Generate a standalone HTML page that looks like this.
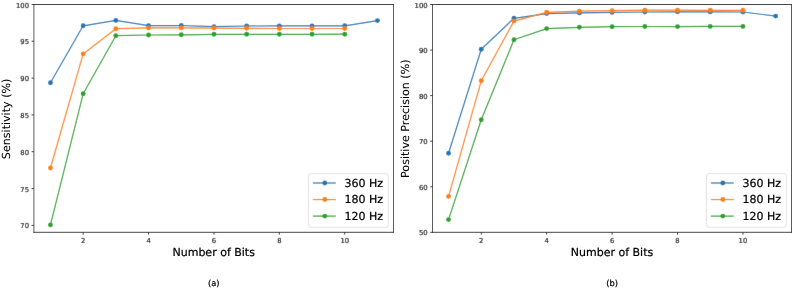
<!DOCTYPE html>
<html><head><meta charset="utf-8"><title>Figure</title>
<style>html,body{margin:0;padding:0;background:#fff;width:793px;height:289px;overflow:hidden}svg{display:block}</style>
</head><body>
<svg width="793" height="289" viewBox="0 0 793 289">
<style>
text{font-family:"DejaVu Sans","Liberation Sans",sans-serif;fill:#000;stroke:#000;stroke-width:0.18px;text-rendering:geometricPrecision}
.t{font-size:6.8px;letter-spacing:0px}
.l{font-size:11px}
.sharp text{stroke-width:0.22px}
.g{font-size:11px}
.c{font-size:8.3px;stroke-width:0.1px}
</style>
<defs><filter id="b" x="0" y="0" width="1" height="1"><feConvolveMatrix order="3" kernelMatrix="0.00524 0.06192 0.00524 0.06192 0.73137 0.06192 0.00524 0.06192 0.00524" edgeMode="duplicate" preserveAlpha="false"/></filter></defs>
<rect width="793" height="289" fill="#fff"/>
<g filter="url(#b)">
<rect width="793" height="289" fill="#fff"/>
<polyline points="50.45,82.70 83.15,25.80 115.85,20.40 148.55,25.60 181.25,25.50 213.95,26.70 246.65,26.00 279.35,25.90 312.05,25.90 344.75,25.80 377.45,20.60" fill="none" stroke="#1f77b4" stroke-width="1.2" stroke-linejoin="round"/>
<circle cx="50.45" cy="82.70" r="2.45" fill="#1f77b4"/>
<circle cx="83.15" cy="25.80" r="2.45" fill="#1f77b4"/>
<circle cx="115.85" cy="20.40" r="2.45" fill="#1f77b4"/>
<circle cx="148.55" cy="25.60" r="2.45" fill="#1f77b4"/>
<circle cx="181.25" cy="25.50" r="2.45" fill="#1f77b4"/>
<circle cx="213.95" cy="26.70" r="2.45" fill="#1f77b4"/>
<circle cx="246.65" cy="26.00" r="2.45" fill="#1f77b4"/>
<circle cx="279.35" cy="25.90" r="2.45" fill="#1f77b4"/>
<circle cx="312.05" cy="25.90" r="2.45" fill="#1f77b4"/>
<circle cx="344.75" cy="25.80" r="2.45" fill="#1f77b4"/>
<circle cx="377.45" cy="20.60" r="2.45" fill="#1f77b4"/>
<polyline points="50.45,168.00 83.15,53.90 115.85,28.70 148.55,27.90 181.25,27.90 213.95,28.10 246.65,28.30 279.35,28.50 312.05,28.50 344.75,28.50" fill="none" stroke="#ff7f0e" stroke-width="1.2" stroke-linejoin="round"/>
<circle cx="50.45" cy="168.00" r="2.45" fill="#ff7f0e"/>
<circle cx="83.15" cy="53.90" r="2.45" fill="#ff7f0e"/>
<circle cx="115.85" cy="28.70" r="2.45" fill="#ff7f0e"/>
<circle cx="148.55" cy="27.90" r="2.45" fill="#ff7f0e"/>
<circle cx="181.25" cy="27.90" r="2.45" fill="#ff7f0e"/>
<circle cx="213.95" cy="28.10" r="2.45" fill="#ff7f0e"/>
<circle cx="246.65" cy="28.30" r="2.45" fill="#ff7f0e"/>
<circle cx="279.35" cy="28.50" r="2.45" fill="#ff7f0e"/>
<circle cx="312.05" cy="28.50" r="2.45" fill="#ff7f0e"/>
<circle cx="344.75" cy="28.50" r="2.45" fill="#ff7f0e"/>
<polyline points="50.45,224.90 83.15,93.80 115.85,35.70 148.55,35.00 181.25,34.80 213.95,34.30 246.65,34.30 279.35,34.30 312.05,34.30 344.75,34.20" fill="none" stroke="#2ca02c" stroke-width="1.2" stroke-linejoin="round"/>
<circle cx="50.45" cy="224.90" r="2.45" fill="#2ca02c"/>
<circle cx="83.15" cy="93.80" r="2.45" fill="#2ca02c"/>
<circle cx="115.85" cy="35.70" r="2.45" fill="#2ca02c"/>
<circle cx="148.55" cy="35.00" r="2.45" fill="#2ca02c"/>
<circle cx="181.25" cy="34.80" r="2.45" fill="#2ca02c"/>
<circle cx="213.95" cy="34.30" r="2.45" fill="#2ca02c"/>
<circle cx="246.65" cy="34.30" r="2.45" fill="#2ca02c"/>
<circle cx="279.35" cy="34.30" r="2.45" fill="#2ca02c"/>
<circle cx="312.05" cy="34.30" r="2.45" fill="#2ca02c"/>
<circle cx="344.75" cy="34.20" r="2.45" fill="#2ca02c"/>
<text x="29.00" y="228.40" text-anchor="end" class="t">70</text>
<text x="29.00" y="191.60" text-anchor="end" class="t">75</text>
<text x="29.00" y="154.70" text-anchor="end" class="t">80</text>
<text x="29.00" y="117.90" text-anchor="end" class="t">85</text>
<text x="29.00" y="81.10" text-anchor="end" class="t">90</text>
<text x="29.00" y="44.20" text-anchor="end" class="t">95</text>
<text x="29.00" y="7.50" text-anchor="end" class="t">100</text>
<text x="83.15" y="243.00" text-anchor="middle" class="t">2</text>
<text x="148.55" y="243.00" text-anchor="middle" class="t">4</text>
<text x="213.95" y="243.00" text-anchor="middle" class="t">6</text>
<text x="279.35" y="243.00" text-anchor="middle" class="t">8</text>
<text x="344.75" y="243.00" text-anchor="middle" class="t">10</text>
<rect x="308.50" y="173.6" width="79.8" height="53.8" rx="2.6" fill="#fff" fill-opacity="0.8" stroke="#ccc" stroke-width="0.6"/>
<line x1="312.90" y1="183.00" x2="335.80" y2="183.00" stroke="#1f77b4" stroke-width="1.2"/>
<circle cx="324.80" cy="183.00" r="2.45" fill="#1f77b4"/>
<line x1="312.90" y1="199.55" x2="335.80" y2="199.55" stroke="#ff7f0e" stroke-width="1.2"/>
<circle cx="324.80" cy="199.55" r="2.45" fill="#ff7f0e"/>
<line x1="312.90" y1="216.10" x2="335.80" y2="216.10" stroke="#2ca02c" stroke-width="1.2"/>
<circle cx="324.80" cy="216.10" r="2.45" fill="#2ca02c"/>
<polyline points="448.55,153.30 481.26,49.20 513.97,18.30 546.68,13.60 579.39,12.90 612.10,12.40 644.81,12.00 677.52,11.80 710.23,11.90 742.94,12.00 775.65,16.10" fill="none" stroke="#1f77b4" stroke-width="1.2" stroke-linejoin="round"/>
<circle cx="448.55" cy="153.30" r="2.45" fill="#1f77b4"/>
<circle cx="481.26" cy="49.20" r="2.45" fill="#1f77b4"/>
<circle cx="513.97" cy="18.30" r="2.45" fill="#1f77b4"/>
<circle cx="546.68" cy="13.60" r="2.45" fill="#1f77b4"/>
<circle cx="579.39" cy="12.90" r="2.45" fill="#1f77b4"/>
<circle cx="612.10" cy="12.40" r="2.45" fill="#1f77b4"/>
<circle cx="644.81" cy="12.00" r="2.45" fill="#1f77b4"/>
<circle cx="677.52" cy="11.80" r="2.45" fill="#1f77b4"/>
<circle cx="710.23" cy="11.90" r="2.45" fill="#1f77b4"/>
<circle cx="742.94" cy="12.00" r="2.45" fill="#1f77b4"/>
<circle cx="775.65" cy="16.10" r="2.45" fill="#1f77b4"/>
<polyline points="448.55,196.40 481.26,80.80 513.97,21.10 546.68,12.30 579.39,11.20 612.10,10.70 644.81,10.20 677.52,10.20 710.23,10.30 742.94,10.30" fill="none" stroke="#ff7f0e" stroke-width="1.2" stroke-linejoin="round"/>
<circle cx="448.55" cy="196.40" r="2.45" fill="#ff7f0e"/>
<circle cx="481.26" cy="80.80" r="2.45" fill="#ff7f0e"/>
<circle cx="513.97" cy="21.10" r="2.45" fill="#ff7f0e"/>
<circle cx="546.68" cy="12.30" r="2.45" fill="#ff7f0e"/>
<circle cx="579.39" cy="11.20" r="2.45" fill="#ff7f0e"/>
<circle cx="612.10" cy="10.70" r="2.45" fill="#ff7f0e"/>
<circle cx="644.81" cy="10.20" r="2.45" fill="#ff7f0e"/>
<circle cx="677.52" cy="10.20" r="2.45" fill="#ff7f0e"/>
<circle cx="710.23" cy="10.30" r="2.45" fill="#ff7f0e"/>
<circle cx="742.94" cy="10.30" r="2.45" fill="#ff7f0e"/>
<polyline points="448.55,219.60 481.26,119.80 513.97,39.80 546.68,28.60 579.39,27.30 612.10,26.70 644.81,26.50 677.52,26.60 710.23,26.40 742.94,26.40" fill="none" stroke="#2ca02c" stroke-width="1.2" stroke-linejoin="round"/>
<circle cx="448.55" cy="219.60" r="2.45" fill="#2ca02c"/>
<circle cx="481.26" cy="119.80" r="2.45" fill="#2ca02c"/>
<circle cx="513.97" cy="39.80" r="2.45" fill="#2ca02c"/>
<circle cx="546.68" cy="28.60" r="2.45" fill="#2ca02c"/>
<circle cx="579.39" cy="27.30" r="2.45" fill="#2ca02c"/>
<circle cx="612.10" cy="26.70" r="2.45" fill="#2ca02c"/>
<circle cx="644.81" cy="26.50" r="2.45" fill="#2ca02c"/>
<circle cx="677.52" cy="26.60" r="2.45" fill="#2ca02c"/>
<circle cx="710.23" cy="26.40" r="2.45" fill="#2ca02c"/>
<circle cx="742.94" cy="26.40" r="2.45" fill="#2ca02c"/>
<text x="427.60" y="235.30" text-anchor="end" class="t">50</text>
<text x="427.60" y="189.70" text-anchor="end" class="t">60</text>
<text x="427.60" y="144.20" text-anchor="end" class="t">70</text>
<text x="427.60" y="98.60" text-anchor="end" class="t">80</text>
<text x="427.60" y="53.10" text-anchor="end" class="t">90</text>
<text x="427.60" y="7.50" text-anchor="end" class="t">100</text>
<text x="481.26" y="243.00" text-anchor="middle" class="t">2</text>
<text x="546.68" y="243.00" text-anchor="middle" class="t">4</text>
<text x="612.10" y="243.00" text-anchor="middle" class="t">6</text>
<text x="677.52" y="243.00" text-anchor="middle" class="t">8</text>
<text x="742.94" y="243.00" text-anchor="middle" class="t">10</text>
<rect x="706.50" y="173.6" width="79.8" height="53.8" rx="2.6" fill="#fff" fill-opacity="0.8" stroke="#ccc" stroke-width="0.6"/>
<line x1="710.90" y1="183.00" x2="733.80" y2="183.00" stroke="#1f77b4" stroke-width="1.2"/>
<circle cx="722.80" cy="183.00" r="2.45" fill="#1f77b4"/>
<line x1="710.90" y1="199.55" x2="733.80" y2="199.55" stroke="#ff7f0e" stroke-width="1.2"/>
<circle cx="722.80" cy="199.55" r="2.45" fill="#ff7f0e"/>
<line x1="710.90" y1="216.10" x2="733.80" y2="216.10" stroke="#2ca02c" stroke-width="1.2"/>
<circle cx="722.80" cy="216.10" r="2.45" fill="#2ca02c"/>
</g>
<g>
<line x1="33.9" y1="4.05" x2="33.9" y2="232.75" stroke="#4a4a4a" stroke-width="0.9"/>
<line x1="393.5" y1="4.05" x2="393.5" y2="232.75" stroke="#4a4a4a" stroke-width="0.9"/>
<line x1="33.449999999999996" y1="4.5" x2="393.95" y2="4.5" stroke="#333" stroke-width="0.9"/>
<line x1="33.449999999999996" y1="232.3" x2="393.95" y2="232.3" stroke="#333" stroke-width="0.9"/>
<line x1="31.60" y1="225.4" x2="33.9" y2="225.4" stroke="#333" stroke-width="0.9"/>
<line x1="31.60" y1="188.6" x2="33.9" y2="188.6" stroke="#333" stroke-width="0.9"/>
<line x1="31.60" y1="151.7" x2="33.9" y2="151.7" stroke="#333" stroke-width="0.9"/>
<line x1="31.60" y1="114.9" x2="33.9" y2="114.9" stroke="#333" stroke-width="0.9"/>
<line x1="31.60" y1="78.1" x2="33.9" y2="78.1" stroke="#333" stroke-width="0.9"/>
<line x1="31.60" y1="41.2" x2="33.9" y2="41.2" stroke="#333" stroke-width="0.9"/>
<line x1="31.60" y1="4.5" x2="33.9" y2="4.5" stroke="#333" stroke-width="0.9"/>
<line x1="83.15" y1="232.3" x2="83.15" y2="234.60" stroke="#333" stroke-width="0.9"/>
<line x1="148.55" y1="232.3" x2="148.55" y2="234.60" stroke="#333" stroke-width="0.9"/>
<line x1="213.95" y1="232.3" x2="213.95" y2="234.60" stroke="#333" stroke-width="0.9"/>
<line x1="279.35" y1="232.3" x2="279.35" y2="234.60" stroke="#333" stroke-width="0.9"/>
<line x1="344.75" y1="232.3" x2="344.75" y2="234.60" stroke="#333" stroke-width="0.9"/>
<line x1="432.5" y1="4.05" x2="432.5" y2="232.75" stroke="#4a4a4a" stroke-width="0.9"/>
<line x1="791.5" y1="4.05" x2="791.5" y2="232.75" stroke="#4a4a4a" stroke-width="0.9"/>
<line x1="432.05" y1="4.5" x2="791.95" y2="4.5" stroke="#333" stroke-width="0.9"/>
<line x1="432.05" y1="232.3" x2="791.95" y2="232.3" stroke="#333" stroke-width="0.9"/>
<line x1="430.20" y1="232.3" x2="432.5" y2="232.3" stroke="#333" stroke-width="0.9"/>
<line x1="430.20" y1="186.7" x2="432.5" y2="186.7" stroke="#333" stroke-width="0.9"/>
<line x1="430.20" y1="141.2" x2="432.5" y2="141.2" stroke="#333" stroke-width="0.9"/>
<line x1="430.20" y1="95.6" x2="432.5" y2="95.6" stroke="#333" stroke-width="0.9"/>
<line x1="430.20" y1="50.1" x2="432.5" y2="50.1" stroke="#333" stroke-width="0.9"/>
<line x1="430.20" y1="4.5" x2="432.5" y2="4.5" stroke="#333" stroke-width="0.9"/>
<line x1="481.26" y1="232.3" x2="481.26" y2="234.60" stroke="#333" stroke-width="0.9"/>
<line x1="546.68" y1="232.3" x2="546.68" y2="234.60" stroke="#333" stroke-width="0.9"/>
<line x1="612.10" y1="232.3" x2="612.10" y2="234.60" stroke="#333" stroke-width="0.9"/>
<line x1="677.52" y1="232.3" x2="677.52" y2="234.60" stroke="#333" stroke-width="0.9"/>
<line x1="742.94" y1="232.3" x2="742.94" y2="234.60" stroke="#333" stroke-width="0.9"/>
</g>
<g class="sharp">
<text x="213.70" y="256.1" text-anchor="middle" class="l">Number of Bits</text>
<text transform="translate(10.00,118.90) rotate(-90)" text-anchor="middle" class="l" style="font-size:11.1px;stroke-width:0.05px">Sensitivity (%)</text>
<text x="344.50" y="186.80" class="g">360 Hz</text>
<text x="344.50" y="203.35" class="g">180 Hz</text>
<text x="344.50" y="219.90" class="g">120 Hz</text>
<text x="213.7" y="286.2" text-anchor="middle" class="c">(a)</text>
<text x="612.00" y="256.1" text-anchor="middle" class="l">Number of Bits</text>
<text transform="translate(408.60,118.70) rotate(-90)" text-anchor="middle" class="l" style="font-size:11.1px;stroke-width:0.05px">Positive Precision (%)</text>
<text x="742.50" y="186.80" class="g">360 Hz</text>
<text x="742.50" y="203.35" class="g">180 Hz</text>
<text x="742.50" y="219.90" class="g">120 Hz</text>
<text x="612.2" y="286.2" text-anchor="middle" class="c">(b)</text>
</g>
</svg>
</body></html>
